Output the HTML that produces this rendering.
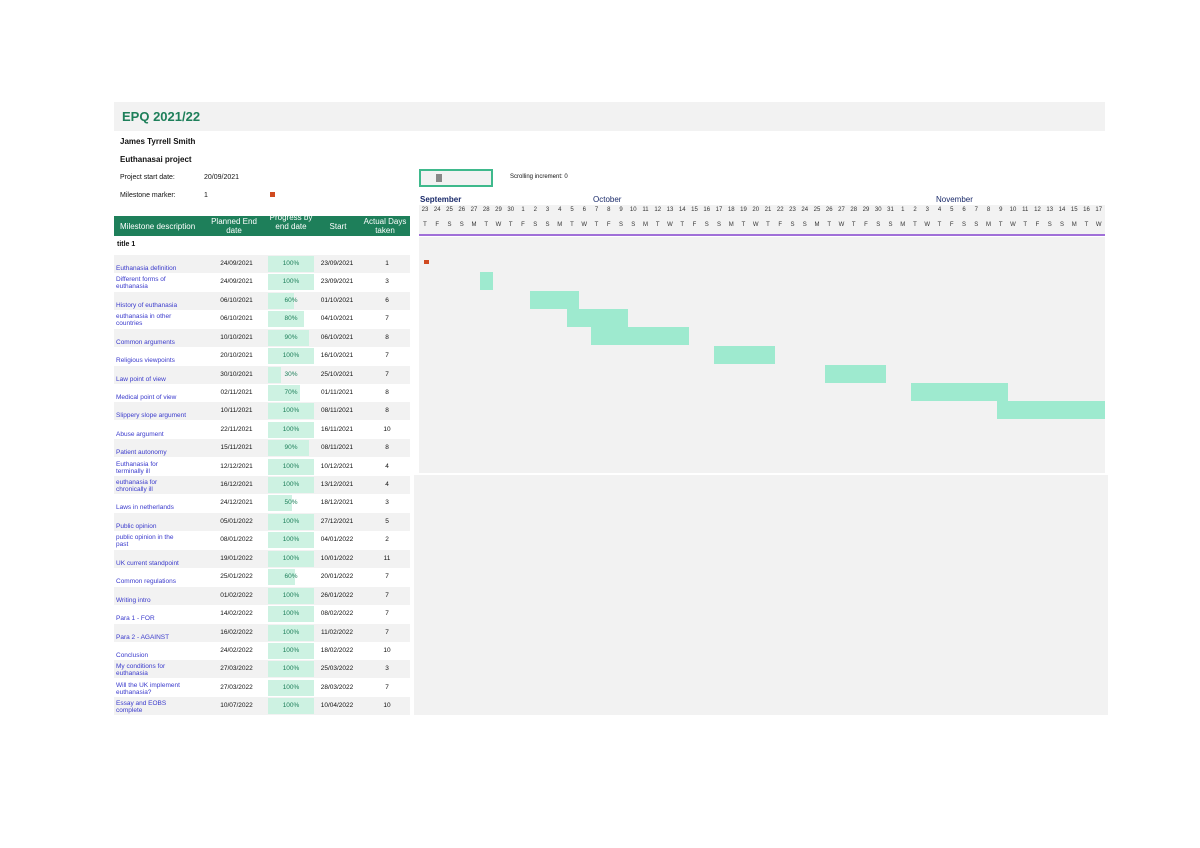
<!DOCTYPE html>
<html><head><meta charset="utf-8"><style>
*{margin:0;padding:0;box-sizing:border-box}
body{width:1200px;height:848px;background:#fff;position:relative;font-family:"Liberation Sans",sans-serif;overflow:hidden}
.a{position:absolute}
.t{font-size:7px;color:#111;white-space:nowrap}
.r{position:absolute;left:114px;width:296px;height:18px}
.r span{position:absolute;font-size:6.5px;white-space:nowrap}
.d{left:2px;color:#3a3acc;line-height:7px;bottom:1px}
.p{left:91px;width:63px;text-align:center;top:5px;color:#111}
.pb{position:absolute;left:154px;top:1px;height:16px;background:#cdf2e2}
.pc{left:154px;width:46px;text-align:center;top:5px;color:#1e7f5a}
.s{left:200px;width:46px;text-align:center;top:5px;color:#111}
.n{left:250px;width:46px;text-align:center;top:5px;color:#111}
.bar{position:absolute;background:#9eeacf;height:18px}
.dr{position:absolute;left:419px;width:686px;display:flex;justify-content:space-between;font-size:6px;color:#333}
.dr i{font-style:normal;width:12px;text-align:center}
</style></head><body>
<div class="a" style="left:114px;top:102px;width:991px;height:29px;background:#f2f2f2"></div>
<div class="a" style="left:122px;top:109px;font-size:13px;font-weight:bold;color:#1e7f5a">EPQ 2021/22</div>
<div class="a t" style="left:120px;top:137px;font-weight:bold;font-size:8px">James Tyrrell Smith</div>
<div class="a t" style="left:120px;top:155px;font-weight:bold;font-size:8px">Euthanasai project</div>
<div class="a t" style="left:120px;top:174px">Project start date:</div>
<div class="a t" style="left:204px;top:174px">20/09/2021</div>
<div class="a t" style="left:120px;top:192px">Milestone marker:</div>
<div class="a t" style="left:204px;top:192px">1</div>
<div class="a" style="left:270px;top:192px;width:5px;height:5px;background:#d04a20"></div>
<div class="a" style="left:419px;top:169px;width:74px;height:18px;border:2px solid #3fb98c;background:#f2f2f2"></div>
<div class="a" style="left:436px;top:174px;width:6px;height:8px;background:#888"></div>
<div class="a t" style="left:510px;top:174px;font-size:6px">Scrolling increment: 0</div>
<div class="a" style="left:420px;top:195px;font-size:8px;font-weight:bold;color:#1a2a6a">September</div>
<div class="a" style="left:593px;top:195px;font-size:8px;color:#1a2a6a">October</div>
<div class="a" style="left:936px;top:195px;font-size:8px;color:#1a2a6a">November</div>
<div class="a" style="left:419px;top:205px;width:686px;height:30px;background:#f2f2f2"></div>
<div class="dr" style="top:207px"><i>23</i><i>24</i><i>25</i><i>26</i><i>27</i><i>28</i><i>29</i><i>30</i><i>1</i><i>2</i><i>3</i><i>4</i><i>5</i><i>6</i><i>7</i><i>8</i><i>9</i><i>10</i><i>11</i><i>12</i><i>13</i><i>14</i><i>15</i><i>16</i><i>17</i><i>18</i><i>19</i><i>20</i><i>21</i><i>22</i><i>23</i><i>24</i><i>25</i><i>26</i><i>27</i><i>28</i><i>29</i><i>30</i><i>31</i><i>1</i><i>2</i><i>3</i><i>4</i><i>5</i><i>6</i><i>7</i><i>8</i><i>9</i><i>10</i><i>11</i><i>12</i><i>13</i><i>14</i><i>15</i><i>16</i><i>17</i></div>
<div class="dr" style="top:222px"><i>T</i><i>F</i><i>S</i><i>S</i><i>M</i><i>T</i><i>W</i><i>T</i><i>F</i><i>S</i><i>S</i><i>M</i><i>T</i><i>W</i><i>T</i><i>F</i><i>S</i><i>S</i><i>M</i><i>T</i><i>W</i><i>T</i><i>F</i><i>S</i><i>S</i><i>M</i><i>T</i><i>W</i><i>T</i><i>F</i><i>S</i><i>S</i><i>M</i><i>T</i><i>W</i><i>T</i><i>F</i><i>S</i><i>S</i><i>M</i><i>T</i><i>W</i><i>T</i><i>F</i><i>S</i><i>S</i><i>M</i><i>T</i><i>W</i><i>T</i><i>F</i><i>S</i><i>S</i><i>M</i><i>T</i><i>W</i></div>
<div class="a" style="left:419px;top:234px;width:686px;height:2px;background:#a070d8"></div>
<div class="a" style="left:419px;top:237px;width:686px;height:236px;background:#f2f2f2"></div>
<div class="a" style="left:414px;top:475px;width:694px;height:240px;background:#f2f2f2"></div>
<div class="a" style="left:424px;top:260px;width:5px;height:4px;background:#d04a20"></div>
<div class="bar" style="left:480px;top:272px;width:13px"></div>
<div class="bar" style="left:530px;top:291px;width:49px"></div>
<div class="bar" style="left:567px;top:309px;width:61px"></div>
<div class="bar" style="left:591px;top:327px;width:98px"></div>
<div class="bar" style="left:714px;top:346px;width:61px"></div>
<div class="bar" style="left:825px;top:365px;width:61px"></div>
<div class="bar" style="left:911px;top:383px;width:97px"></div>
<div class="bar" style="left:997px;top:401px;width:108px"></div>
<div class="a" style="left:114px;top:216px;width:296px;height:20px;background:#1e7f5a"></div>
<div class="a" style="left:120px;top:222px;font-size:8px;color:#fff">Milestone description</div>
<div class="a" style="left:205px;top:217px;width:58px;text-align:center;font-size:8px;color:#fff;line-height:9px">Planned End date</div>
<div class="a" style="left:268px;top:213px;width:46px;text-align:center;font-size:8px;color:#fff;line-height:9px;height:23px;overflow:hidden">Progress by end date</div>
<div class="a" style="left:318px;top:222px;width:40px;text-align:center;font-size:8px;color:#fff">Start</div>
<div class="a" style="left:360px;top:217px;width:50px;text-align:center;font-size:8px;color:#fff;line-height:9px">Actual Days taken</div>
<div class="a t" style="left:117px;top:241px;font-size:7px;font-weight:bold">title 1</div>

<div class="r" style="top:255px;background:#f2f2f2"><span class="d">Euthanasia definition</span><div class="pb" style="width:46px;left:154px"></div><span class="p">24/09/2021</span><span class="pc">100%</span><span class="s">23/09/2021</span><span class="n">1</span></div>
<div class="r" style="top:273px"><span class="d">Different forms of<br>euthanasia</span><div class="pb" style="width:46px"></div><span class="p">24/09/2021</span><span class="pc">100%</span><span class="s">23/09/2021</span><span class="n">3</span></div>
<div class="r" style="top:292px;background:#f2f2f2"><span class="d">History of euthanasia</span><div class="pb" style="width:26px"></div><span class="p">06/10/2021</span><span class="pc">60%</span><span class="s">01/10/2021</span><span class="n">6</span></div>
<div class="r" style="top:310px"><span class="d">euthanasia in other<br>countries</span><div class="pb" style="width:36px"></div><span class="p">06/10/2021</span><span class="pc">80%</span><span class="s">04/10/2021</span><span class="n">7</span></div>
<div class="r" style="top:329px;background:#f2f2f2"><span class="d">Common arguments</span><div class="pb" style="width:41px"></div><span class="p">10/10/2021</span><span class="pc">90%</span><span class="s">06/10/2021</span><span class="n">8</span></div>
<div class="r" style="top:347px"><span class="d">Religious viewpoints</span><div class="pb" style="width:46px"></div><span class="p">20/10/2021</span><span class="pc">100%</span><span class="s">16/10/2021</span><span class="n">7</span></div>
<div class="r" style="top:366px;background:#f2f2f2"><span class="d">Law point of view</span><div class="pb" style="width:13px"></div><span class="p">30/10/2021</span><span class="pc">30%</span><span class="s">25/10/2021</span><span class="n">7</span></div>
<div class="r" style="top:384px"><span class="d">Medical point of view</span><div class="pb" style="width:32px"></div><span class="p">02/11/2021</span><span class="pc">70%</span><span class="s">01/11/2021</span><span class="n">8</span></div>
<div class="r" style="top:402px;background:#f2f2f2"><span class="d">Slippery slope argument</span><div class="pb" style="width:46px"></div><span class="p">10/11/2021</span><span class="pc">100%</span><span class="s">08/11/2021</span><span class="n">8</span></div>
<div class="r" style="top:421px"><span class="d">Abuse argument</span><div class="pb" style="width:46px"></div><span class="p">22/11/2021</span><span class="pc">100%</span><span class="s">16/11/2021</span><span class="n">10</span></div>
<div class="r" style="top:439px;background:#f2f2f2"><span class="d">Patient autonomy</span><div class="pb" style="width:41px"></div><span class="p">15/11/2021</span><span class="pc">90%</span><span class="s">08/11/2021</span><span class="n">8</span></div>
<div class="r" style="top:458px"><span class="d">Euthanasia for<br>terminally ill</span><div class="pb" style="width:46px"></div><span class="p">12/12/2021</span><span class="pc">100%</span><span class="s">10/12/2021</span><span class="n">4</span></div>
<div class="r" style="top:476px;background:#f2f2f2"><span class="d">euthanasia for<br>chronically ill</span><div class="pb" style="width:46px"></div><span class="p">16/12/2021</span><span class="pc">100%</span><span class="s">13/12/2021</span><span class="n">4</span></div>
<div class="r" style="top:494px"><span class="d">Laws in netherlands</span><div class="pb" style="width:24px"></div><span class="p">24/12/2021</span><span class="pc">50%</span><span class="s">18/12/2021</span><span class="n">3</span></div>
<div class="r" style="top:513px;background:#f2f2f2"><span class="d">Public opinion</span><div class="pb" style="width:46px"></div><span class="p">05/01/2022</span><span class="pc">100%</span><span class="s">27/12/2021</span><span class="n">5</span></div>
<div class="r" style="top:531px"><span class="d">public opinion in the<br>past</span><div class="pb" style="width:46px"></div><span class="p">08/01/2022</span><span class="pc">100%</span><span class="s">04/01/2022</span><span class="n">2</span></div>
<div class="r" style="top:550px;background:#f2f2f2"><span class="d">UK current standpoint</span><div class="pb" style="width:46px"></div><span class="p">19/01/2022</span><span class="pc">100%</span><span class="s">10/01/2022</span><span class="n">11</span></div>
<div class="r" style="top:568px"><span class="d">Common regulations</span><div class="pb" style="width:27px"></div><span class="p">25/01/2022</span><span class="pc">60%</span><span class="s">20/01/2022</span><span class="n">7</span></div>
<div class="r" style="top:587px;background:#f2f2f2"><span class="d">Writing intro</span><div class="pb" style="width:46px"></div><span class="p">01/02/2022</span><span class="pc">100%</span><span class="s">26/01/2022</span><span class="n">7</span></div>
<div class="r" style="top:605px"><span class="d">Para 1 - FOR</span><div class="pb" style="width:46px"></div><span class="p">14/02/2022</span><span class="pc">100%</span><span class="s">08/02/2022</span><span class="n">7</span></div>
<div class="r" style="top:624px;background:#f2f2f2"><span class="d">Para 2 - AGAINST</span><div class="pb" style="width:46px"></div><span class="p">16/02/2022</span><span class="pc">100%</span><span class="s">11/02/2022</span><span class="n">7</span></div>
<div class="r" style="top:642px"><span class="d">Conclusion</span><div class="pb" style="width:46px"></div><span class="p">24/02/2022</span><span class="pc">100%</span><span class="s">18/02/2022</span><span class="n">10</span></div>
<div class="r" style="top:660px;background:#f2f2f2"><span class="d">My conditions for<br>euthanasia</span><div class="pb" style="width:46px"></div><span class="p">27/03/2022</span><span class="pc">100%</span><span class="s">25/03/2022</span><span class="n">3</span></div>
<div class="r" style="top:679px"><span class="d">Will the UK implement<br>euthanasia?</span><div class="pb" style="width:46px"></div><span class="p">27/03/2022</span><span class="pc">100%</span><span class="s">28/03/2022</span><span class="n">7</span></div>
<div class="r" style="top:697px;background:#f2f2f2"><span class="d">Essay and EOBS<br>complete</span><div class="pb" style="width:46px"></div><span class="p">10/07/2022</span><span class="pc">100%</span><span class="s">10/04/2022</span><span class="n">10</span></div>
</body></html>
